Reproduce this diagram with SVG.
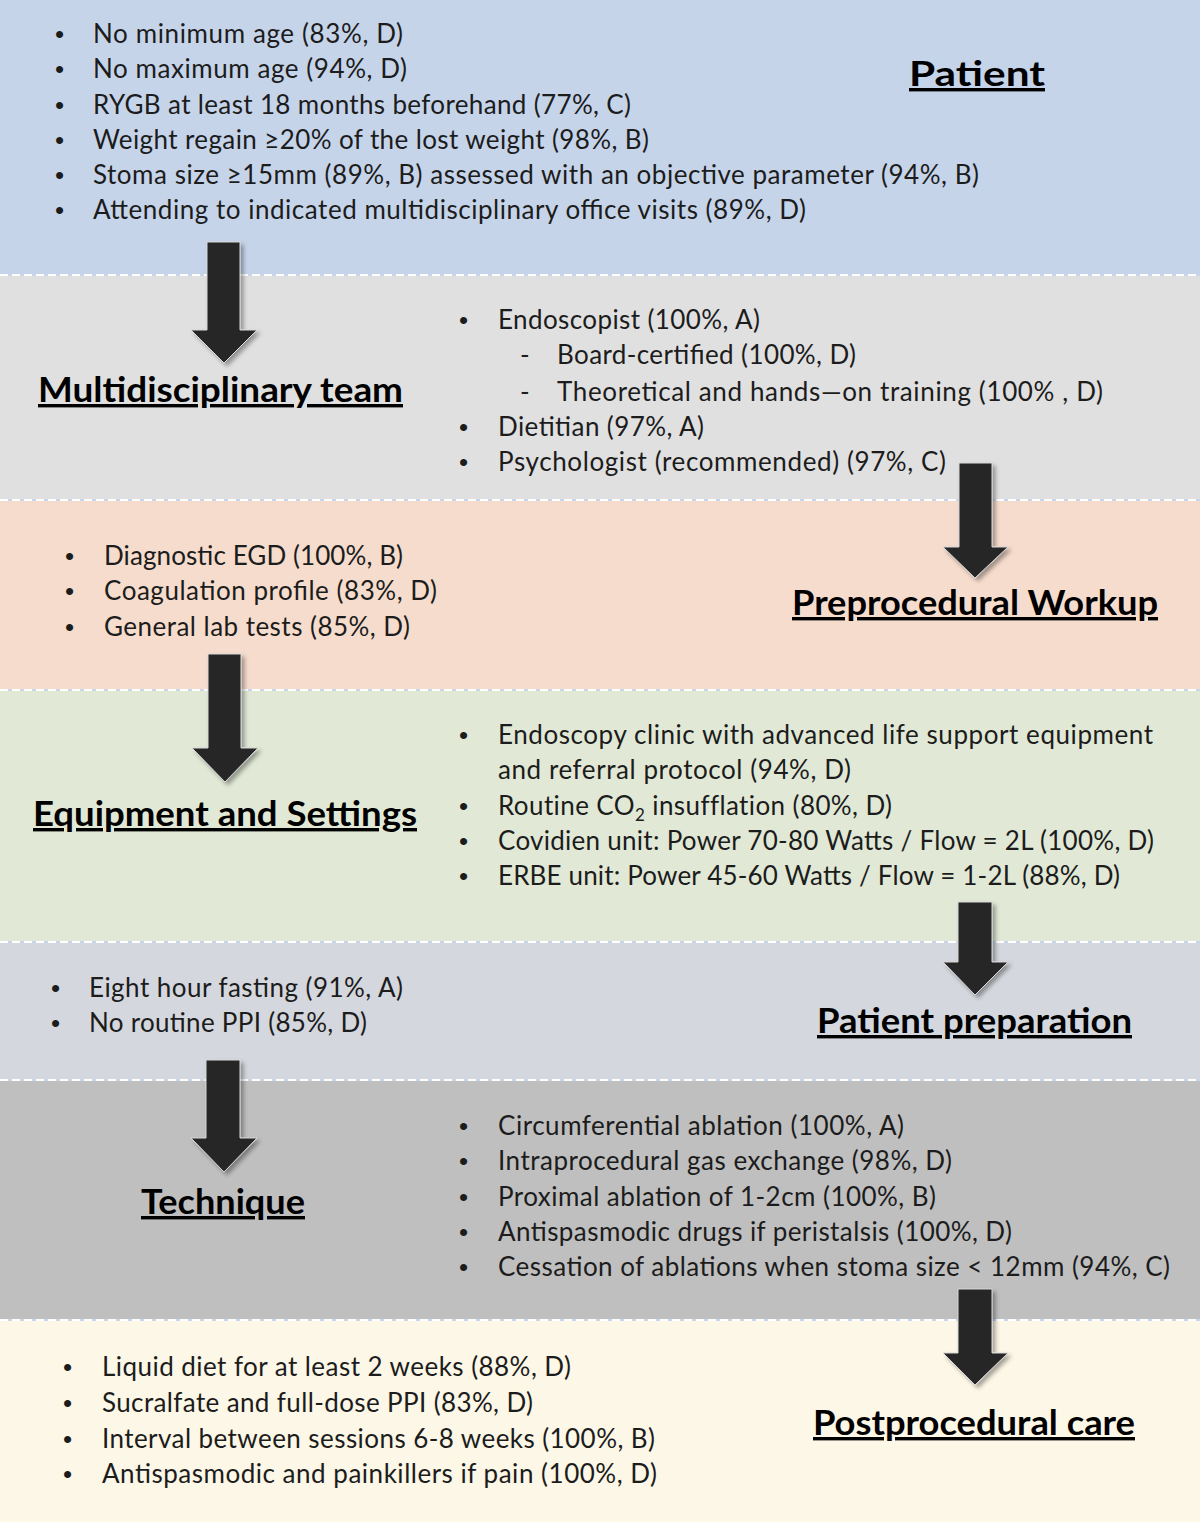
<svg xmlns="http://www.w3.org/2000/svg" width="1200" height="1522" viewBox="0 0 1200 1522">
<defs>
<style>
.t{font-family:Lato,"Open Sans","Liberation Sans",sans-serif;font-size:26px;fill:#1c1c1c}
.b{font-family:"Liberation Sans",sans-serif;font-size:26px;fill:#1c1c1c}
.h{font-family:Lato,"Liberation Sans",sans-serif;font-size:34px;font-weight:bold;fill:#000;text-decoration:underline}
.sep{stroke:#ffffff;stroke-width:2;stroke-dasharray:8 4}
.sepb{stroke:#c8d6ec;stroke-width:2}
.arr{fill:#262626;stroke:#d8d8d8;stroke-width:1;filter:url(#sh)}
</style>
<filter id="sh" x="-30%" y="-10%" width="160%" height="130%">
<feDropShadow dx="3" dy="3" stdDeviation="2" flood-color="#000" flood-opacity="0.35"/>
</filter>
</defs>

<g id="patient">
<rect x="0" y="0" width="1200" height="275" fill="#c6d4ea"/>
<text class="b" x="55" y="43">•</text><text class="t" x="93" y="43" textLength="310" lengthAdjust="spacing">No minimum age (83%, D)</text>
<text class="b" x="55" y="78">•</text><text class="t" x="93" y="78" textLength="314" lengthAdjust="spacing">No maximum age (94%, D)</text>
<text class="b" x="55" y="114">•</text><text class="t" x="93" y="114" textLength="538" lengthAdjust="spacing">RYGB at least 18 months beforehand (77%, C)</text>
<text class="b" x="55" y="149">•</text><text class="t" x="93" y="149" textLength="556" lengthAdjust="spacing">Weight regain ≥20% of the lost weight (98%, B)</text>
<text class="b" x="55" y="184">•</text><text class="t" x="93" y="184" textLength="886" lengthAdjust="spacing">Stoma size ≥15mm (89%, B) assessed with an objective parameter (94%, B)</text>
<text class="b" x="55" y="219">•</text><text class="t" x="93" y="219" textLength="713" lengthAdjust="spacing">Attending to indicated multidisciplinary office visits (89%, D)</text>
<text class="h" x="909" y="86" textLength="136" lengthAdjust="spacingAndGlyphs">Patient</text>
</g>

<g id="multidisciplinary-team">
<rect x="0" y="275" width="1200" height="225" fill="#e0e0e0"/>
<text class="b" x="459" y="329">•</text><text class="t" x="498" y="329" textLength="262" lengthAdjust="spacing">Endoscopist (100%, A)</text>
<text class="t" x="520" y="364">-</text><text class="t" x="557" y="364" textLength="299" lengthAdjust="spacing">Board-certified (100%, D)</text>
<text class="t" x="520" y="401">-</text><text class="t" x="557" y="401" textLength="546" lengthAdjust="spacing">Theoretical and hands—on training (100% , D)</text>
<text class="b" x="459" y="436">•</text><text class="t" x="498" y="436" textLength="206" lengthAdjust="spacing">Dietitian (97%, A)</text>
<text class="b" x="459" y="471">•</text><text class="t" x="498" y="471" textLength="448" lengthAdjust="spacing">Psychologist (recommended) (97%, C)</text>
<text class="h" x="38" y="402" textLength="365" lengthAdjust="spacingAndGlyphs">Multidisciplinary team</text>
</g>

<g id="preprocedural-workup">
<rect x="0" y="500" width="1200" height="190" fill="#f6dccd"/>
<text class="b" x="65" y="565">•</text><text class="t" x="104" y="565" textLength="299" lengthAdjust="spacing">Diagnostic EGD (100%, B)</text>
<text class="b" x="65" y="600">•</text><text class="t" x="104" y="600" textLength="333" lengthAdjust="spacing">Coagulation profile (83%, D)</text>
<text class="b" x="65" y="636">•</text><text class="t" x="104" y="636" textLength="306" lengthAdjust="spacing">General lab tests (85%, D)</text>
<text class="h" x="792" y="615" textLength="366" lengthAdjust="spacingAndGlyphs">Preprocedural Workup</text>
</g>

<g id="equipment-and-settings">
<rect x="0" y="690" width="1200" height="252" fill="#e1e9d6"/>
<text class="b" x="459" y="744">•</text><text class="t" x="498" y="744" textLength="655" lengthAdjust="spacing">Endoscopy clinic with advanced life support equipment</text>
<text class="t" x="498" y="779" textLength="353" lengthAdjust="spacing">and referral protocol (94%, D)</text>
<text class="b" x="459" y="815">•</text><text class="t" x="498" y="815" letter-spacing="0.4">Routine CO<tspan font-size="17" dy="6">2</tspan><tspan dy="-6"> insufflation (80%, D)</tspan></text>
<text class="b" x="459" y="850">•</text><text class="t" x="498" y="850" textLength="656" lengthAdjust="spacing">Covidien unit: Power 70-80 Watts / Flow = 2L (100%, D)</text>
<text class="b" x="459" y="885">•</text><text class="t" x="498" y="885" textLength="622" lengthAdjust="spacing">ERBE unit: Power 45-60 Watts / Flow = 1-2L (88%, D)</text>
<text class="h" x="33" y="826" textLength="384" lengthAdjust="spacingAndGlyphs">Equipment and Settings</text>
</g>

<g id="patient-preparation">
<rect x="0" y="942" width="1200" height="138" fill="#d4d7dd"/>
<text class="b" x="51" y="997">•</text><text class="t" x="89" y="997" textLength="314" lengthAdjust="spacing">Eight hour fasting (91%, A)</text>
<text class="b" x="51" y="1032">•</text><text class="t" x="89" y="1032" textLength="278" lengthAdjust="spacing">No routine PPI (85%, D)</text>
<text class="h" x="817" y="1033" textLength="315" lengthAdjust="spacingAndGlyphs">Patient preparation</text>
</g>

<g id="technique">
<rect x="0" y="1080" width="1200" height="240" fill="#bfbfbf"/>
<text class="b" x="459" y="1135">•</text><text class="t" x="498" y="1135" textLength="406" lengthAdjust="spacing">Circumferential ablation (100%, A)</text>
<text class="b" x="459" y="1170">•</text><text class="t" x="498" y="1170" textLength="454" lengthAdjust="spacing">Intraprocedural gas exchange (98%, D)</text>
<text class="b" x="459" y="1206">•</text><text class="t" x="498" y="1206" textLength="438" lengthAdjust="spacing">Proximal ablation of 1-2cm (100%, B)</text>
<text class="b" x="459" y="1241">•</text><text class="t" x="498" y="1241" textLength="514" lengthAdjust="spacing">Antispasmodic drugs if peristalsis (100%, D)</text>
<text class="b" x="459" y="1276">•</text><text class="t" x="498" y="1276" textLength="672" lengthAdjust="spacing">Cessation of ablations when stoma size &lt; 12mm (94%, C)</text>
<text class="h" x="141" y="1214" textLength="164" lengthAdjust="spacingAndGlyphs">Technique</text>
</g>

<g id="postprocedural-care">
<rect x="0" y="1320" width="1200" height="202" fill="#fdf7e7"/>
<text class="b" x="63" y="1376">•</text><text class="t" x="102" y="1376" textLength="469" lengthAdjust="spacing">Liquid diet for at least 2 weeks (88%, D)</text>
<text class="b" x="63" y="1412">•</text><text class="t" x="102" y="1412" textLength="431" lengthAdjust="spacing">Sucralfate and full-dose PPI (83%, D)</text>
<text class="b" x="63" y="1448">•</text><text class="t" x="102" y="1448" textLength="553" lengthAdjust="spacing">Interval between sessions 6-8 weeks (100%, B)</text>
<text class="b" x="63" y="1483">•</text><text class="t" x="102" y="1483" textLength="555" lengthAdjust="spacing">Antispasmodic and painkillers if pain (100%, D)</text>
<text class="h" x="813" y="1435" textLength="322" lengthAdjust="spacingAndGlyphs">Postprocedural care</text>
</g>

<g id="separators">
<line class="sepb" x1="0" y1="275" x2="1200" y2="275"/><line class="sep" x1="0" y1="275" x2="1200" y2="275"/>
<line class="sepb" x1="0" y1="500" x2="1200" y2="500"/><line class="sep" x1="0" y1="500" x2="1200" y2="500"/>
<line class="sepb" x1="0" y1="690" x2="1200" y2="690"/><line class="sep" x1="0" y1="690" x2="1200" y2="690"/>
<line class="sepb" x1="0" y1="942" x2="1200" y2="942"/><line class="sep" x1="0" y1="942" x2="1200" y2="942"/>
<line class="sepb" x1="0" y1="1080" x2="1200" y2="1080"/><line class="sep" x1="0" y1="1080" x2="1200" y2="1080"/>
<line class="sepb" x1="0" y1="1320" x2="1200" y2="1320"/><line class="sep" x1="0" y1="1320" x2="1200" y2="1320"/>
</g>

<g id="connectors">
<polygon class="arr" points="207,242 240,242 240,330 257,330 224,363 191,330 207,330"/>
<polygon class="arr" points="959,463 992,463 992,547 1008,547 975,578 943,547 959,547"/>
<polygon class="arr" points="208,654 241,654 241,748 258,748 225,782 192,748 208,748"/>
<polygon class="arr" points="958,902 992,902 992,962 1008,962 975,995 943,962 958,962"/>
<polygon class="arr" points="206,1060 240,1060 240,1138 257,1138 224,1172 191,1138 206,1138"/>
<polygon class="arr" points="958,1289 992,1289 992,1353 1008,1353 975,1385 943,1353 958,1353"/>
</g>
</svg>
